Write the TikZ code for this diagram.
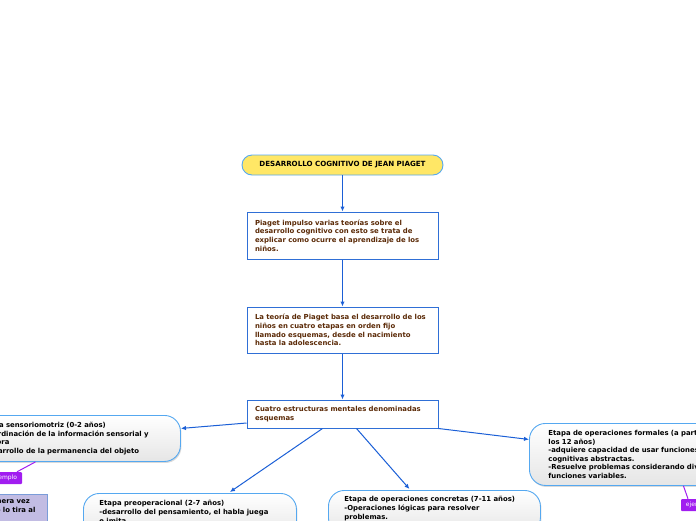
\documentclass[tikz,border=0pt]{standalone}
\usepackage{fontspec}
\setmainfont{DejaVu Sans}
\usetikzlibrary{arrows.meta,shadows}
\definecolor{topfill}{HTML}{FFE766}
\definecolor{rbord}{HTML}{55A8F0}
\definecolor{bbord}{HTML}{2F6FD6}
\definecolor{arr}{HTML}{1B5FD6}
\definecolor{brown}{HTML}{5B2A07}
\definecolor{purp}{HTML}{A11DF0}
\definecolor{lav}{HTML}{C2BCE3}
\definecolor{lavb}{HTML}{7A9CD8}
\tikzset{
  txt/.style={font=\fontsize{6.9}{8.6}\selectfont\bfseries},
  titlebox/.style={font=\fontsize{7.1}{8.6}\selectfont\bfseries, draw=rbord, line width=0.9pt, fill=topfill, rounded corners=10pt, minimum width=201pt, minimum height=20pt, inner sep=0pt},
  rectbox/.style={txt, text=brown, draw=bbord, line width=1pt, fill=white, align=left, inner xsep=8pt, text width=175pt,
    drop shadow={opacity=0.35, shadow xshift=1pt, shadow yshift=-1.2pt}},
  roundbox/.style={txt, draw=rbord, line width=0.9pt, rounded corners=16pt, align=left, inner xsep=19pt, anchor=north west,
    top color=white, bottom color=black!10,
    drop shadow={opacity=0.3, shadow xshift=1pt, shadow yshift=-1.5pt}},
  conn/.style={draw=arr, line width=1pt, -{Latex[length=5pt,width=4.5pt]}},
  tag/.style={fill=purp, text=white, font=\fontsize{6}{6.5}\selectfont, inner sep=0pt, minimum height=12pt, rounded corners=1pt},
  tagline/.style={draw=purp, line width=1pt}
}
\begin{document}
\begin{tikzpicture}[x=1pt,y=-1pt]
\useasboundingbox (0,0) rectangle (696,520);
\clip (0,0) rectangle (696,520);
\node[titlebox] (t) at (342.5,165) {DESARROLLO COGNITIVO DE JEAN PIAGET};
\node[rectbox, minimum height=47pt] (n2) at (342.5,235.5)
 {Piaget impulso varias teorías sobre el\\desarrollo cognitivo con esto se trata de\\explicar como ocurre el aprendizaje de los\\niños.};
\node[rectbox, minimum height=46pt] (n3) at (342.5,330)
 {La teoría de Piaget basa el desarrollo de los\\niños en cuatro etapas en orden fijo\\llamado esquemas, desde el nacimiento\\hasta la adolescencia.};
\node[rectbox, minimum height=28pt] (n4) at (342.5,414)
 {Cuatro estructuras mentales denominadas\\esquemas};
\node[roundbox, text width=180pt, minimum height=46pt] (L) at (-38,415)
 {Etapa sensoriomotriz (0-2 años)\\-coordinación de la información sensorial y\\motora\\-desarrollo de la permanencia del objeto};
\node[roundbox, text width=181pt, inner xsep=16pt, inner ysep=7pt] (BL) at (83,493)
 {Etapa preoperacional (2-7 años)\\-desarrollo del pensamiento, el habla juega\\e imita\\~};
\node[roundbox, text width=180pt, inner xsep=16pt, inner ysep=6pt] (BM) at (328,490)
 {Etapa de operaciones concretas (7-11 años)\\-Operaciones lógicas para resolver\\problemas.\\~};
\node[roundbox, text width=190pt, minimum height=62pt] (R) at (529,423)
 {Etapa de operaciones formales (a partir de\\los 12 años)\\-adquiere capacidad de usar funciones\\cognitivas abstractas.\\-Resuelve problemas considerando diversas\\funciones variables.};
\node[tag, minimum width=34pt] (tagL) at (5,478) {ejemplo};
\node[tag, minimum width=34pt] (tagR) at (698,505) {ejemplo};
\node[draw=lavb, line width=0.8pt, fill=lav, txt, align=left, anchor=north west, inner xsep=5pt, inner ysep=4pt, text width=70pt] (ex) at (-33,494)
 {La primera vez\\cuando lo tira al\\~};
\draw[conn] (t) -- (n2);
\draw[conn] (n2) -- (n3);
\draw[conn] (n3) -- (n4);
\draw[conn] ([yshift=-9pt]n4.west) -- ([yshift=10pt]L.east);
\draw[conn] ([xshift=-20pt]n4.south) -- ([xshift=40pt,yshift=1pt]BL.north);
\draw[conn] ([xshift=14pt]n4.south) -- ([xshift=-25pt,yshift=1pt]BM.north);
\draw[conn] (n4.south east) -- ([yshift=15pt]R.west);
\draw[tagline] ([xshift=-36pt]L.south) -- ([xshift=12pt]tagL.north);
\draw[tagline] ([xshift=40pt]R.south) -- ([xshift=-10pt]tagR.north);
\end{tikzpicture}
\end{document}
